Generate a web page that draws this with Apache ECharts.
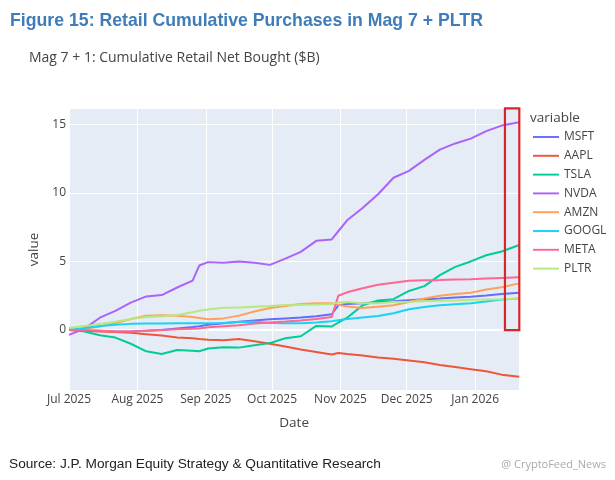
<!DOCTYPE html>
<html>
<head>
<meta charset="utf-8">
<script src="https://cdn.jsdelivr.net/npm/echarts@6/dist/echarts.min.js"></script>
<style>
html,body{margin:0;padding:0;background:#fff;}
#chart{width:615px;height:480px;}
</style>
</head>
<body>
<div id="chart"></div>
<script>
const dates = ['2025-07-01','2025-07-08','2025-07-15','2025-07-22','2025-07-29','2025-08-05','2025-08-12','2025-08-19','2025-08-26','2025-08-29','2025-09-02','2025-09-09','2025-09-16','2025-09-23','2025-09-30','2025-10-07','2025-10-14','2025-10-21','2025-10-28','2025-10-31','2025-11-04','2025-11-11','2025-11-18','2025-11-25','2025-12-02','2025-12-09','2025-12-16','2025-12-23','2025-12-30','2026-01-06','2026-01-13','2026-01-21'];
const tickers = ['MSFT','AAPL','TSLA','NVDA','AMZN','GOOGL','META','PLTR'];
const MSFT  = [0.0,-0.05,-0.05,-0.1,-0.1,-0.05,0.0,0.12,0.22,0.28,0.38,0.5,0.6,0.7,0.78,0.85,0.92,1.0,1.15,1.8,1.9,1.95,2.03,2.1,2.18,2.25,2.3,2.38,2.43,2.52,2.62,2.72];
const AAPL  = [0.0,-0.05,-0.1,-0.15,-0.2,-0.3,-0.4,-0.55,-0.6,-0.65,-0.7,-0.75,-0.65,-0.82,-1.0,-1.2,-1.42,-1.6,-1.78,-1.68,-1.75,-1.85,-2.0,-2.1,-2.22,-2.35,-2.55,-2.7,-2.85,-3.0,-3.25,-3.4];
const TSLA  = [0.05,-0.1,-0.38,-0.55,-1.0,-1.55,-1.75,-1.45,-1.5,-1.55,-1.35,-1.25,-1.28,-1.1,-0.95,-0.6,-0.45,0.3,0.25,0.55,0.9,1.8,2.15,2.25,2.85,3.2,4.0,4.6,5.0,5.45,5.72,6.2];
const NVDA  = [-0.35,0.1,0.9,1.4,2.0,2.45,2.55,3.1,3.6,4.7,4.95,4.9,5.0,4.9,4.75,5.2,5.7,6.5,6.6,7.2,8.0,8.9,9.9,11.1,11.6,12.4,13.15,13.6,13.95,14.5,14.9,15.15];
const AMZN  = [0.0,0.1,0.25,0.5,0.8,1.05,1.08,1.05,0.95,0.88,0.78,0.85,1.05,1.35,1.6,1.75,1.9,1.95,1.95,1.85,1.72,1.6,1.7,1.8,2.05,2.3,2.5,2.62,2.72,2.95,3.12,3.4];
const GOOGL = [0.0,0.15,0.3,0.38,0.45,0.47,0.48,0.5,0.5,0.5,0.5,0.52,0.58,0.6,0.52,0.5,0.5,0.55,0.65,0.72,0.8,0.92,1.02,1.22,1.52,1.68,1.8,1.88,1.95,2.08,2.22,2.3];
const META  = [0.0,0.0,-0.05,-0.1,-0.1,-0.05,0.0,0.05,0.1,0.12,0.2,0.27,0.35,0.47,0.55,0.62,0.7,0.8,0.95,2.5,2.75,3.05,3.3,3.45,3.6,3.62,3.64,3.68,3.7,3.75,3.8,3.85];
const PLTR  = [0.15,0.3,0.45,0.6,0.8,0.95,1.0,1.1,1.3,1.4,1.5,1.62,1.65,1.7,1.75,1.82,1.85,1.87,1.9,2.0,2.05,1.95,1.95,2.05,2.07,2.1,2.13,2.16,2.2,2.23,2.25,2.3];
const yTicks = [0, 5, 10, 15];
const highlightDates = ['2026-01-14T12:00:00','2026-01-22'];
const highlightValues = [0, 16.27];

const values = {MSFT, AAPL, TSLA, NVDA, AMZN, GOOGL, META, PLTR};
const colors = ['#636EFA','#EF553B','#00CC96','#AB63FA','#FFA15A','#19D3F3','#FF6692','#B6E880'];
const months = ['Jan','Feb','Mar','Apr','May','Jun','Jul','Aug','Sep','Oct','Nov','Dec'];
const txt = '#444';
const font = '"Open Sans", "Noto Sans", sans-serif';
const arial = '"Liberation Sans", Arial, sans-serif';

const series = tickers.map((t, i) => ({
  name: t,
  type: 'line',
  data: dates.map((d, j) => [d, values[t][j]]),
  symbol: 'none',
  z: 3,
  lineStyle: {color: colors[i], width: 2},
  itemStyle: {color: colors[i]},
  emphasis: {disabled: true}
}));
// zero line beneath traces
series.unshift({
  name: 'zero', type: 'line', data: [], z: 1, silent: true,
  markLine: {silent: true, z: 1, symbol: 'none', label: {show: false},
    lineStyle: {color: '#ffffff', width: 2, type: 'solid'},
    data: [{yAxis: 0}]}
});
// highlight box above traces
series.push({
  name: 'box', type: 'line', data: [], z: 10, silent: true, clip: false,
  markArea: {silent: true, z: 10,
    itemStyle: {color: 'rgba(0,0,0,0)', borderColor: '#D7262B', borderWidth: 2.2},
    data: [[{xAxis: highlightDates[0], yAxis: highlightValues[0]}, {xAxis: highlightDates[1], yAxis: highlightValues[1]}]]}
});

const chart = echarts.init(document.getElementById('chart'), null, {renderer: 'canvas'});
chart.setOption({
  animation: false,
  backgroundColor: '#ffffff',
  title: [
    {text: 'Figure 15: Retail Cumulative Purchases in Mag 7 + PLTR', left: 10, top: 12, padding: 0,
     textStyle: {fontFamily: arial, fontWeight: 'bold', fontSize: 17.7, color: '#3F7CBA'}},
    {text: 'Mag 7 + 1: Cumulative Retail Net Bought ($B)', left: 29, top: 51, padding: 0,
     textStyle: {fontFamily: font, fontWeight: 'normal', fontSize: 14, color: txt}},
    {text: 'variable', left: 530, top: 111, padding: 0,
     textStyle: {fontFamily: font, fontWeight: 'normal', fontSize: 13.5, color: txt}},
    {text: 'Source: J.P. Morgan Equity Strategy & Quantitative Research', left: 9, top: 457, padding: 0,
     textStyle: {fontFamily: arial, fontWeight: 'normal', fontSize: 13.7, color: '#222'}},
    {text: '@ CryptoFeed_News', right: 9, top: 459, padding: 0,
     textStyle: {fontFamily: font, fontWeight: 'normal', fontSize: 11, color: '#aaaaaa'}}
  ],
  legend: {
    data: tickers, orient: 'vertical', left: 533, top: 131, padding: 0,
    itemWidth: 26, itemHeight: 10, itemGap: 6.8,
    icon: 'path://M0,0 L27,0 L27,2 L0,2 Z',
    textStyle: {fontFamily: font, fontSize: 12, color: txt},
    selectedMode: false
  },
  grid: {left: 69, right: 95.7, top: 108.3, bottom: 89.3, containLabel: false,
         show: true, backgroundColor: '#E5ECF6', borderWidth: 0},
  xAxis: {
    type: 'time',
    min: dates[0], max: dates[dates.length - 1],
    minInterval: 28 * 86400000, maxInterval: 31 * 86400000,
    name: 'Date', nameLocation: 'middle', nameGap: 25,
    nameTextStyle: {fontFamily: font, fontSize: 13.5, color: txt},
    axisLine: {show: false}, axisTick: {show: false},
    splitLine: {show: true, lineStyle: {color: '#ffffff', width: 1}},
    axisLabel: {fontFamily: font, fontSize: 12, color: txt, margin: 3, hideOverlap: false,
      formatter: v => { const d = new Date(v); return months[d.getMonth()] + ' ' + d.getFullYear(); }}
  },
  yAxis: {
    type: 'value', min: -4.42, max: 16.16, splitNumber: 4,
    name: 'value', nameLocation: 'middle', nameGap: 25,
    nameTextStyle: {fontFamily: font, fontSize: 13.5, color: txt},
    axisLine: {show: false}, axisTick: {show: false},
    splitLine: {show: true, lineStyle: {color: '#ffffff', width: 1}},
    axisLabel: {fontFamily: font, fontSize: 12, color: txt, margin: 3,
      formatter: v => yTicks.some(t => Math.abs(t - v) < 1e-6) ? String(Math.round(v)) : ''}
  },
  series: series
});
</script>
</body>
</html>
